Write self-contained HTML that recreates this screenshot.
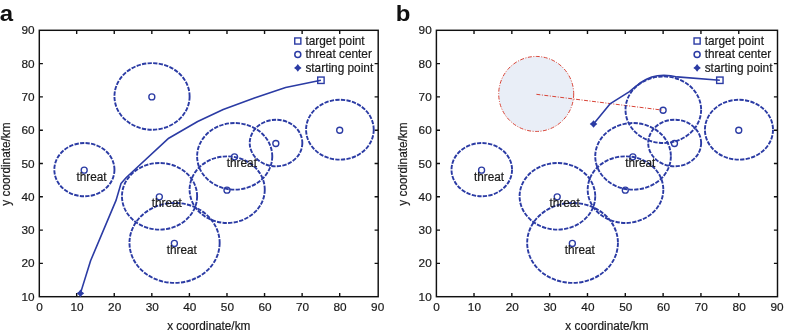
<!DOCTYPE html>
<html><head><meta charset="utf-8"><title>figure</title>
<style>
html,body{margin:0;padding:0;background:#fff;}
body{width:785px;height:333px;overflow:hidden;}
svg{display:block;}
text{font-family:"Liberation Sans",sans-serif;fill:#1a1a1a;}
.t{font-size:11.8px;stroke:#1a1a1a;stroke-width:0.2px;}
.l{font-size:11.85px;stroke:#1a1a1a;stroke-width:0.2px;}
.p{font-size:22px;font-weight:bold;fill:#111;}
</style></head><body>
<svg width="785" height="333" viewBox="0 0 785 333">
<rect width="785" height="333" fill="#fff"/>
<rect x="39.30" y="30.30" width="338.90" height="266.40" fill="none" stroke="#111" stroke-width="1.45"/>
<path d="M76.68 296.70v-3.6M76.68 30.30v3.6" stroke="#111" stroke-width="1.4"/>
<path d="M114.25 296.70v-3.6M114.25 30.30v3.6" stroke="#111" stroke-width="1.4"/>
<path d="M151.83 296.70v-3.6M151.83 30.30v3.6" stroke="#111" stroke-width="1.4"/>
<path d="M189.40 296.70v-3.6M189.40 30.30v3.6" stroke="#111" stroke-width="1.4"/>
<path d="M226.98 296.70v-3.6M226.98 30.30v3.6" stroke="#111" stroke-width="1.4"/>
<path d="M264.55 296.70v-3.6M264.55 30.30v3.6" stroke="#111" stroke-width="1.4"/>
<path d="M302.13 296.70v-3.6M302.13 30.30v3.6" stroke="#111" stroke-width="1.4"/>
<path d="M339.70 296.70v-3.6M339.70 30.30v3.6" stroke="#111" stroke-width="1.4"/>
<path d="M39.30 263.40h3.6M378.20 263.40h-3.6" stroke="#111" stroke-width="1.4"/>
<path d="M39.30 230.10h3.6M378.20 230.10h-3.6" stroke="#111" stroke-width="1.4"/>
<path d="M39.30 196.80h3.6M378.20 196.80h-3.6" stroke="#111" stroke-width="1.4"/>
<path d="M39.30 163.50h3.6M378.20 163.50h-3.6" stroke="#111" stroke-width="1.4"/>
<path d="M39.30 130.20h3.6M378.20 130.20h-3.6" stroke="#111" stroke-width="1.4"/>
<path d="M39.30 96.90h3.6M378.20 96.90h-3.6" stroke="#111" stroke-width="1.4"/>
<path d="M39.30 63.60h3.6M378.20 63.60h-3.6" stroke="#111" stroke-width="1.4"/>
<text transform="translate(39.50 311.20)" text-anchor="middle" class="t">0</text>
<text transform="translate(77.08 311.20)" text-anchor="middle" class="t">10</text>
<text transform="translate(114.65 311.20)" text-anchor="middle" class="t">20</text>
<text transform="translate(152.23 311.20)" text-anchor="middle" class="t">30</text>
<text transform="translate(189.80 311.20)" text-anchor="middle" class="t">40</text>
<text transform="translate(227.38 311.20)" text-anchor="middle" class="t">50</text>
<text transform="translate(264.95 311.20)" text-anchor="middle" class="t">60</text>
<text transform="translate(302.53 311.20)" text-anchor="middle" class="t">70</text>
<text transform="translate(340.10 311.20)" text-anchor="middle" class="t">80</text>
<text transform="translate(377.68 311.20)" text-anchor="middle" class="t">90</text>
<text transform="translate(34.60 300.70)" text-anchor="end" class="t">10</text>
<text transform="translate(34.60 267.40)" text-anchor="end" class="t">20</text>
<text transform="translate(34.60 234.10)" text-anchor="end" class="t">30</text>
<text transform="translate(34.60 200.80)" text-anchor="end" class="t">40</text>
<text transform="translate(34.60 167.50)" text-anchor="end" class="t">50</text>
<text transform="translate(34.60 134.20)" text-anchor="end" class="t">60</text>
<text transform="translate(34.60 100.90)" text-anchor="end" class="t">70</text>
<text transform="translate(34.60 67.60)" text-anchor="end" class="t">80</text>
<text transform="translate(34.60 34.30)" text-anchor="end" class="t">90</text>
<text transform="translate(208.75 330.20) scale(1 1.07)" text-anchor="middle" class="t">x coordinate/km</text>
<text transform="translate(10.20 164.10) rotate(-90) scale(1 1.06)" text-anchor="middle" class="t">y coordinate/km</text>
<ellipse cx="152.03" cy="96.40" rx="37.58" ry="33.30" fill="none" stroke="#2b3ba4" stroke-width="1.9" stroke-dasharray="4.3 1.3"/>
<ellipse cx="84.39" cy="169.66" rx="30.06" ry="26.64" fill="none" stroke="#2b3ba4" stroke-width="1.9" stroke-dasharray="4.3 1.3"/>
<ellipse cx="159.54" cy="196.30" rx="37.58" ry="33.30" fill="none" stroke="#2b3ba4" stroke-width="1.9" stroke-dasharray="4.3 1.3"/>
<ellipse cx="174.57" cy="242.92" rx="45.09" ry="39.96" fill="none" stroke="#2b3ba4" stroke-width="1.9" stroke-dasharray="4.3 1.3"/>
<ellipse cx="227.18" cy="189.64" rx="37.58" ry="33.30" fill="none" stroke="#2b3ba4" stroke-width="1.9" stroke-dasharray="4.3 1.3"/>
<ellipse cx="234.69" cy="156.34" rx="37.58" ry="33.30" fill="none" stroke="#2b3ba4" stroke-width="1.9" stroke-dasharray="4.3 1.3"/>
<ellipse cx="276.03" cy="143.02" rx="26.30" ry="23.31" fill="none" stroke="#2b3ba4" stroke-width="1.9" stroke-dasharray="4.3 1.3"/>
<ellipse cx="339.90" cy="129.70" rx="33.82" ry="29.97" fill="none" stroke="#2b3ba4" stroke-width="1.9" stroke-dasharray="4.3 1.3"/>
<circle cx="151.83" cy="96.90" r="3.0" fill="none" stroke="#2b3ba4" stroke-width="1.35"/>
<circle cx="84.19" cy="170.16" r="3.0" fill="none" stroke="#2b3ba4" stroke-width="1.35"/>
<circle cx="159.34" cy="196.80" r="3.0" fill="none" stroke="#2b3ba4" stroke-width="1.35"/>
<circle cx="174.37" cy="243.42" r="3.0" fill="none" stroke="#2b3ba4" stroke-width="1.35"/>
<circle cx="226.98" cy="190.14" r="3.0" fill="none" stroke="#2b3ba4" stroke-width="1.35"/>
<circle cx="234.49" cy="156.84" r="3.0" fill="none" stroke="#2b3ba4" stroke-width="1.35"/>
<circle cx="275.83" cy="143.52" r="3.0" fill="none" stroke="#2b3ba4" stroke-width="1.35"/>
<circle cx="339.70" cy="130.20" r="3.0" fill="none" stroke="#2b3ba4" stroke-width="1.35"/>
<text transform="translate(76.49 180.56) scale(1 1.07)" class="t">threat</text>
<text transform="translate(151.64 207.20) scale(1 1.07)" class="t">threat</text>
<text transform="translate(166.67 253.82) scale(1 1.07)" class="t">threat</text>
<text transform="translate(226.79 167.24) scale(1 1.07)" class="t">threat</text>
<path d="M80.43 293.37L90.58 260.74L116.13 200.13L121.01 183.48L126.28 177.49L168.74 138.19L197.67 121.54L223.22 109.55L254.41 97.90L285.60 87.58L320.92 80.25" fill="none" stroke="#2b3ba4" stroke-width="1.6" stroke-linejoin="round"/>
<rect x="317.72" y="77.05" width="6.4" height="6.4" fill="none" stroke="#2b3ba4" stroke-width="1.4"/>
<path d="M76.63 293.37L78.73 291.67L80.43 289.57L82.13 291.67L84.23 293.37L82.13 295.07L80.43 297.17L78.73 295.07Z" fill="#2b3ba4"/>
<rect x="294.75" y="37.95" width="6.1" height="6.1" fill="none" stroke="#2b3ba4" stroke-width="1.4"/>
<circle cx="297.80" cy="54.40" r="3.0" fill="none" stroke="#2b3ba4" stroke-width="1.5"/>
<path d="M294.00 67.90L296.10 66.20L297.80 64.10L299.50 66.20L301.60 67.90L299.50 69.60L297.80 71.70L296.10 69.60Z" fill="#2b3ba4"/>
<text x="305.40" y="45.00" class="l">target point</text>
<text x="305.40" y="58.45" class="l">threat center</text>
<text x="305.40" y="71.90" class="l">starting point</text>
<rect x="436.40" y="30.30" width="341.10" height="266.40" fill="none" stroke="#111" stroke-width="1.45"/>
<path d="M474.02 296.70v-3.6M474.02 30.30v3.6" stroke="#111" stroke-width="1.4"/>
<path d="M511.84 296.70v-3.6M511.84 30.30v3.6" stroke="#111" stroke-width="1.4"/>
<path d="M549.66 296.70v-3.6M549.66 30.30v3.6" stroke="#111" stroke-width="1.4"/>
<path d="M587.48 296.70v-3.6M587.48 30.30v3.6" stroke="#111" stroke-width="1.4"/>
<path d="M625.30 296.70v-3.6M625.30 30.30v3.6" stroke="#111" stroke-width="1.4"/>
<path d="M663.12 296.70v-3.6M663.12 30.30v3.6" stroke="#111" stroke-width="1.4"/>
<path d="M700.94 296.70v-3.6M700.94 30.30v3.6" stroke="#111" stroke-width="1.4"/>
<path d="M738.76 296.70v-3.6M738.76 30.30v3.6" stroke="#111" stroke-width="1.4"/>
<path d="M436.40 263.40h3.6M777.50 263.40h-3.6" stroke="#111" stroke-width="1.4"/>
<path d="M436.40 230.10h3.6M777.50 230.10h-3.6" stroke="#111" stroke-width="1.4"/>
<path d="M436.40 196.80h3.6M777.50 196.80h-3.6" stroke="#111" stroke-width="1.4"/>
<path d="M436.40 163.50h3.6M777.50 163.50h-3.6" stroke="#111" stroke-width="1.4"/>
<path d="M436.40 130.20h3.6M777.50 130.20h-3.6" stroke="#111" stroke-width="1.4"/>
<path d="M436.40 96.90h3.6M777.50 96.90h-3.6" stroke="#111" stroke-width="1.4"/>
<path d="M436.40 63.60h3.6M777.50 63.60h-3.6" stroke="#111" stroke-width="1.4"/>
<text transform="translate(436.60 311.20)" text-anchor="middle" class="t">0</text>
<text transform="translate(474.42 311.20)" text-anchor="middle" class="t">10</text>
<text transform="translate(512.24 311.20)" text-anchor="middle" class="t">20</text>
<text transform="translate(550.06 311.20)" text-anchor="middle" class="t">30</text>
<text transform="translate(587.88 311.20)" text-anchor="middle" class="t">40</text>
<text transform="translate(625.70 311.20)" text-anchor="middle" class="t">50</text>
<text transform="translate(663.52 311.20)" text-anchor="middle" class="t">60</text>
<text transform="translate(701.34 311.20)" text-anchor="middle" class="t">70</text>
<text transform="translate(739.16 311.20)" text-anchor="middle" class="t">80</text>
<text transform="translate(776.98 311.20)" text-anchor="middle" class="t">90</text>
<text transform="translate(431.70 300.70)" text-anchor="end" class="t">10</text>
<text transform="translate(431.70 267.40)" text-anchor="end" class="t">20</text>
<text transform="translate(431.70 234.10)" text-anchor="end" class="t">30</text>
<text transform="translate(431.70 200.80)" text-anchor="end" class="t">40</text>
<text transform="translate(431.70 167.50)" text-anchor="end" class="t">50</text>
<text transform="translate(431.70 134.20)" text-anchor="end" class="t">60</text>
<text transform="translate(431.70 100.90)" text-anchor="end" class="t">70</text>
<text transform="translate(431.70 67.60)" text-anchor="end" class="t">80</text>
<text transform="translate(431.70 34.30)" text-anchor="end" class="t">90</text>
<text transform="translate(606.95 330.20) scale(1 1.07)" text-anchor="middle" class="t">x coordinate/km</text>
<text transform="translate(407.30 164.10) rotate(-90) scale(1 1.06)" text-anchor="middle" class="t">y coordinate/km</text>
<ellipse cx="536.2" cy="93.95" rx="37.5" ry="37.5" fill="#e9eef7" stroke="#d63a2c" stroke-width="0.95" stroke-dasharray="4 1.5 1 1.5"/>
<path d="M536.4 94.3L663.12 110.22" stroke="#d63a2c" stroke-width="0.95" stroke-dasharray="4 1.5 1 1.5" fill="none"/>
<ellipse cx="481.78" cy="169.66" rx="30.26" ry="26.64" fill="none" stroke="#2b3ba4" stroke-width="1.9" stroke-dasharray="4.3 1.3"/>
<ellipse cx="557.42" cy="196.30" rx="37.82" ry="33.30" fill="none" stroke="#2b3ba4" stroke-width="1.9" stroke-dasharray="4.3 1.3"/>
<ellipse cx="572.55" cy="242.92" rx="45.38" ry="39.96" fill="none" stroke="#2b3ba4" stroke-width="1.9" stroke-dasharray="4.3 1.3"/>
<ellipse cx="625.50" cy="189.64" rx="37.82" ry="33.30" fill="none" stroke="#2b3ba4" stroke-width="1.9" stroke-dasharray="4.3 1.3"/>
<ellipse cx="633.06" cy="156.34" rx="37.82" ry="33.30" fill="none" stroke="#2b3ba4" stroke-width="1.9" stroke-dasharray="4.3 1.3"/>
<ellipse cx="674.67" cy="143.02" rx="26.47" ry="23.31" fill="none" stroke="#2b3ba4" stroke-width="1.9" stroke-dasharray="4.3 1.3"/>
<ellipse cx="738.96" cy="129.70" rx="34.04" ry="29.97" fill="none" stroke="#2b3ba4" stroke-width="1.9" stroke-dasharray="4.3 1.3"/>
<ellipse cx="663.32" cy="109.72" rx="37.82" ry="33.30" fill="none" stroke="#2b3ba4" stroke-width="1.9" stroke-dasharray="4.3 1.3"/>
<circle cx="481.58" cy="170.16" r="3.0" fill="none" stroke="#2b3ba4" stroke-width="1.35"/>
<circle cx="557.22" cy="196.80" r="3.0" fill="none" stroke="#2b3ba4" stroke-width="1.35"/>
<circle cx="572.35" cy="243.42" r="3.0" fill="none" stroke="#2b3ba4" stroke-width="1.35"/>
<circle cx="625.30" cy="190.14" r="3.0" fill="none" stroke="#2b3ba4" stroke-width="1.35"/>
<circle cx="632.86" cy="156.84" r="3.0" fill="none" stroke="#2b3ba4" stroke-width="1.35"/>
<circle cx="674.47" cy="143.52" r="3.0" fill="none" stroke="#2b3ba4" stroke-width="1.35"/>
<circle cx="738.76" cy="130.20" r="3.0" fill="none" stroke="#2b3ba4" stroke-width="1.35"/>
<circle cx="663.12" cy="110.22" r="3.0" fill="none" stroke="#2b3ba4" stroke-width="1.35"/>
<text transform="translate(473.88 180.56) scale(1 1.07)" class="t">threat</text>
<text transform="translate(549.52 207.20) scale(1 1.07)" class="t">threat</text>
<text transform="translate(564.65 253.82) scale(1 1.07)" class="t">threat</text>
<text transform="translate(625.16 167.24) scale(1 1.07)" class="t">threat</text>
<path d="M593.53 124.04L610.36 103.56L629.46 91.57L635.13 86.91L641.37 82.25L646.48 79.25L651.77 76.92L657.45 75.75L663.88 75.35L670.68 75.75L677.11 76.92L719.85 80.25" fill="none" stroke="#2b3ba4" stroke-width="1.6" stroke-linejoin="round"/>
<rect x="716.65" y="77.05" width="6.4" height="6.4" fill="none" stroke="#2b3ba4" stroke-width="1.4"/>
<path d="M589.73 124.04L591.83 122.34L593.53 120.24L595.23 122.34L597.33 124.04L595.23 125.74L593.53 127.84L591.83 125.74Z" fill="#2b3ba4"/>
<rect x="694.05" y="37.95" width="6.1" height="6.1" fill="none" stroke="#2b3ba4" stroke-width="1.4"/>
<circle cx="697.10" cy="54.40" r="3.0" fill="none" stroke="#2b3ba4" stroke-width="1.5"/>
<path d="M693.30 67.90L695.40 66.20L697.10 64.10L698.80 66.20L700.90 67.90L698.80 69.60L697.10 71.70L695.40 69.60Z" fill="#2b3ba4"/>
<text x="704.70" y="45.00" class="l">target point</text>
<text x="704.70" y="58.45" class="l">threat center</text>
<text x="704.70" y="71.90" class="l">starting point</text>
<text transform="translate(-0.3 20.7) scale(1.09 1)" class="p">a</text>
<text transform="translate(395.8 20.7) scale(1.09 1)" class="p">b</text>
</svg>
</body></html>
